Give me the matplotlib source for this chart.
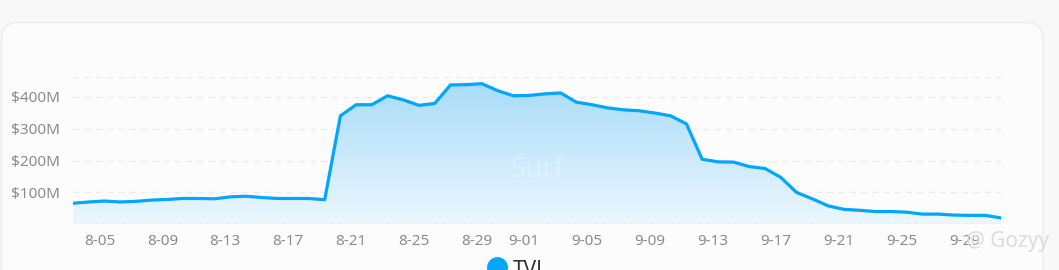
import matplotlib
matplotlib.use("Agg")
import matplotlib.pyplot as plt
import matplotlib.dates as mdates
import matplotlib.transforms as mtransforms
from matplotlib.patches import FancyBboxPatch, Polygon
from matplotlib.ticker import FuncFormatter, FixedLocator
import numpy as np
import pandas as pd

plt.rcParams['font.family'] = ['Noto Sans', 'DejaVu Sans']

# TVL series, daily, in $M
start_date = "2024-08-03"
tvl = [66, 70, 73, 70, 72, 76, 78, 81, 81, 80,
       86, 88, 84, 81, 81, 81, 77, 340, 375, 375,
       403, 390, 373, 379, 437, 438, 441, 419, 403, 404,
       409, 412, 383, 375, 365, 359, 356, 349, 340, 315,
       204, 196, 195, 181, 175, 147, 100, 80, 58, 47,
       44, 40, 40, 38, 32, 32, 29, 28, 28, 20]
y_ticks = [100, 200, 300, 400]
y_top = 461
tick_days = [1, 5, 9, 13, 17, 21, 25, 29]
series_name = "TVL"

dates = pd.date_range(start_date, periods=len(tvl), freq="D")
xs = mdates.date2num(dates)

line_color = "#00a6ff"
label_color = "#8c8c8c"

fig = plt.figure(figsize=(10.59, 2.70), dpi=100)
fig.patch.set_facecolor("#f8f8f8")

# card background with rounded border
card = FancyBboxPatch((1.5 / 1059, -0.2), 1041.5 / 1059, (270 - 22.5) / 270 + 0.2,
                      boxstyle="round,pad=0,rounding_size=0.016",
                      transform=fig.transFigure, facecolor="#fcfcfc",
                      edgecolor="#ececec", linewidth=1.0, zorder=-5,
                      mutation_aspect=1059 / 270)
fig.patches.append(card)

ax = fig.add_axes([73 / 1059, 45.7 / 270, 928 / 1059, 147 / 270])
ax.set_facecolor("none")
ax.set_zorder(2)

# gradient fill under the line
grad = np.linspace(0, 1, 256).reshape(-1, 1)
top_c = np.array([168, 220, 249]) / 255
bot_c = np.array([236, 247, 254]) / 255
img = bot_c + (top_c - bot_c) * grad[:, :, None]
extent = [xs[0], xs[-1], 0, max(tvl)]
im = ax.imshow(img, extent=extent, origin="lower", aspect="auto", zorder=1)
poly_pts = np.column_stack([np.r_[xs[0], xs, xs[-1]], np.r_[0, tvl, 0]])
clip = Polygon(poly_pts, closed=True, facecolor="none", edgecolor="none",
               transform=ax.transData)
ax.add_patch(clip)
im.set_clip_path(clip)

ax.plot(xs, tvl, color=line_color, linewidth=2.3, solid_joinstyle="round",
        zorder=3)

# dashed grid lines
for v in y_ticks + [y_top]:
    ax.axhline(v, color="#ebebeb", linewidth=0.9, linestyle=(0, (5, 4)), zorder=0.5)
ax.axhline(0, color="#dcdcdc", linewidth=1.0, linestyle=(0, (3, 2)), zorder=2)

ax.set_xlim(xs[0], xs[-1])
ax.set_ylim(0, y_top)
for s in ax.spines.values():
    s.set_visible(False)

ax.set_yticks(y_ticks)
ax.yaxis.set_major_formatter(FuncFormatter(lambda v, p: f"${int(v)}M"))
tick_x = [x for x, d in zip(xs[:-2], dates[:-2]) if d.day in tick_days]
ax.xaxis.set_major_locator(FixedLocator(tick_x))
ax.xaxis.set_major_formatter(FuncFormatter(
    lambda v, p: f"{mdates.num2date(v).month}-{mdates.num2date(v).day:02d}"))
ax.tick_params(axis="both", length=0, labelsize=11, labelcolor=label_color)
ax.tick_params(axis="y", pad=9)
ax.tick_params(axis="x", pad=7)

offset = mtransforms.ScaledTranslation(-5 / 100, 0, fig.dpi_scale_trans)
for lbl in ax.get_xticklabels():
    lbl.set_transform(lbl.get_transform() + offset)

# watermarks
ax.text(0.50, 0.37, "Surf", transform=ax.transAxes, fontsize=20, color="white",
        alpha=0.25, ha="center", va="center", fontweight="bold", zorder=2.5)
fig.text(1008 / 1059, (270 - 242) / 270, "@ Gozyy", fontsize=15, color="#dcdcdc",
         ha="center", va="center", zorder=5)

# legend at the bottom, partly cut off like the reference
fig.add_artist(plt.Line2D([497 / 1059], [(270 - 266.7) / 270], marker="o",
                          markersize=14, color=line_color, linestyle="none",
                          transform=fig.transFigure))
fig.text(513 / 1059, (270 - 271) / 270, series_name, fontsize=15,
         color="#333333", ha="left", va="center")

fig.savefig("out.png", dpi=100, facecolor=fig.get_facecolor())
